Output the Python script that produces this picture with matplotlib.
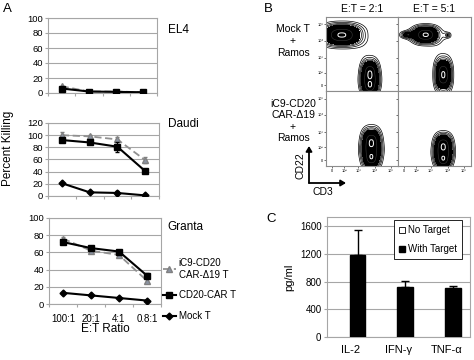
import numpy as np
import matplotlib
matplotlib.use("Agg")
import matplotlib.pyplot as plt
from matplotlib.lines import Line2D
from matplotlib.patches import FancyArrowPatch

plt.rcParams['font.family'] = ['Liberation Sans', 'DejaVu Sans']

W, H = 474, 360

# ---------------- data ----------------
ratios = ["100:1", "20:1", "4:1", "0.8:1"]

el4_ic9 = [9, 2, 2, 1]
el4_car = [6, 2, 1.5, 1]

daudi_ic9 = [100, 98, 93, 59]
daudi_ic9_err = [6, 2, 4, 5]
daudi_car = [92, 88, 81, 41]
daudi_car_err = [4, 3, 8, 2]
daudi_mock = [21, 6, 5, 1]
daudi_mock_err = [1, 1, 3, 1]

granta_ic9 = [76, 62, 57, 27]
granta_ic9_err = [2, 2, 2, 3]
granta_car = [72, 65, 61, 33]
granta_car_err = [2, 2, 2, 3]
granta_mock = [13, 10, 7, 4]
granta_mock_err = [1, 1, 1, 1]

cytokines = ["IL-2", "IFN-γ", "TNF-α"]
no_target = [0, 0, 0]
with_target = [1180, 720, 710]
with_target_err = [360, 90, 20]

# flow populations per panel: (x center, y center, x spread, y spread, weight)
flow_mock_2 = [(0.22, 0.757, 0.12, 0.063, 1.0), (0.61, 0.23, 0.049, 0.08, 1.0),
               (0.61, 0.08, 0.045, 0.06, 0.8)]
flow_mock_5 = [(0.38, 0.76, 0.075, 0.05, 1.0), (0.14, 0.76, 0.06, 0.025, 0.3),
               (0.68, 0.755, 0.04, 0.03, 0.12), (0.62, 0.22, 0.048, 0.093, 1.0)]
flow_car_2 = [(0.63, 0.31, 0.053, 0.08, 1.0), (0.63, 0.12, 0.05, 0.07, 0.8)]
flow_car_5 = [(0.62, 0.26, 0.05, 0.07, 1.0), (0.62, 0.10, 0.047, 0.06, 0.8)]
flow_tick_labels = ["0", "10²", "10³", "10⁴", "10⁵"]


def rect(l, t, r, b):
    return [l / W, 1 - b / H, (r - l) / W, (b - t) / H]


def ftxt(x, y, s, **kw):
    fig.text(x / W, 1 - y / H, s, **kw)


fig = plt.figure(figsize=(W / 100, H / 100), dpi=100)

GRID = '#a6a6a6'
TRI = '#8a93a3'
x = np.arange(len(ratios)) + 0.5


def style_a(ax, ymax, step, xlabels=False):
    ax.set_xlim(0, 4)
    ax.set_ylim(0, ymax)
    ax.set_yticks(np.arange(0, ymax + 1, step))
    ax.yaxis.grid(True, color=GRID, lw=0.8)
    ax.set_axisbelow(True)
    for s in ax.spines.values():
        s.set_color(GRID)
        s.set_linewidth(0.8)
    ax.tick_params(axis='y', labelsize=6.8, length=2, color=GRID, pad=1.5)
    ax.set_xticks([0, 1, 2, 3, 4])
    ax.tick_params(axis='x', length=2, color=GRID, labelbottom=False)
    if xlabels:
        ax.set_xticks(x, minor=True)
        ax.set_xticklabels(ratios, minor=True, fontsize=7)
        ax.tick_params(axis='x', which='minor', length=0, pad=7, labelbottom=True)


def series(ax, vals, err, kind):
    if kind == 'ic9':
        ax.errorbar(x, vals, yerr=err, color='#909090', ls=(0, (4, 2)), lw=1.3,
                    marker='^', ms=4.5, mfc=TRI, mec='#808080', capsize=1.5,
                    elinewidth=0.8, ecolor='#808080', zorder=3)
    elif kind == 'car':
        ax.errorbar(x, vals, yerr=err, color='black', lw=1.5, marker='s', ms=4,
                    capsize=1.5, elinewidth=0.8, zorder=4)
    else:
        ax.errorbar(x, vals, yerr=err, color='black', lw=1.5, marker='D', ms=3.5,
                    capsize=1.5, elinewidth=0.8, zorder=4)


# ---- Panel A ----
ax1 = fig.add_axes(rect(48, 18, 157, 93))
style_a(ax1, 100, 20)
series(ax1, el4_ic9, None, 'ic9')
series(ax1, el4_car, None, 'car')

ax2 = fig.add_axes(rect(48, 123, 159, 196))
style_a(ax2, 120, 20)
series(ax2, daudi_ic9, daudi_ic9_err, 'ic9')
series(ax2, daudi_car, daudi_car_err, 'car')
series(ax2, daudi_mock, daudi_mock_err, 'mock')

ax3 = fig.add_axes(rect(49, 218, 161, 304))
style_a(ax3, 100, 20, xlabels=True)
series(ax3, granta_ic9, granta_ic9_err, 'ic9')
series(ax3, granta_car, granta_car_err, 'car')
series(ax3, granta_mock, granta_mock_err, 'mock')

ftxt(7, 9, "A", fontsize=9.5, ha='center', va='center')
ftxt(168, 30, "EL4", fontsize=8.5, va='center')
ftxt(168, 124, "Daudi", fontsize=8.5, va='center')
ftxt(167, 227, "Granta", fontsize=8.5, va='center')
ftxt(105, 329, "E:T Ratio", fontsize=8.5, ha='center', va='center')
ftxt(8, 148, "Percent Killing", fontsize=8.5, rotation=90, ha='center', va='center')

handles = [
    Line2D([], [], color='#909090', ls=(0, (4, 2)), lw=1.3, marker='^', ms=4.5,
           mfc=TRI, mec='#808080'),
    Line2D([], [], color='black', lw=1.5, marker='s', ms=4),
    Line2D([], [], color='black', lw=1.5, marker='D', ms=3.5),
]
fig.legend(handles, ["iC9-CD20\nCAR-Δ19 T", "CD20-CAR T", "Mock T"],
           loc='upper left', bbox_to_anchor=(163 / W, 1 - 258 / H), frameon=False,
           fontsize=7, handlelength=1.3, handletextpad=0.3, labelspacing=1.1,
           borderaxespad=0, borderpad=0)

# ---- Panel B ----
gx = np.linspace(0, 1, 300)
gy = np.linspace(0, 1, 300)
GX, GY = np.meshgrid(gx, gy)
tick_pos = [0.08, 0.25, 0.45, 0.68, 0.9]
ring_radii = np.array([3.0, 2.7, 2.45, 2.25])
core_radius = 2.05
SHAPE_P = 2.5


def flow(ax, pops, bottom_labels):
    Z = np.zeros_like(GX)
    for (cx, cy, sx, sy, w) in pops:
        rho = (np.abs((GX - cx) / sx) ** SHAPE_P
               + np.abs((GY - cy) / sy) ** SHAPE_P) ** (1 / SHAPE_P)
        Z += w * np.exp(-rho)
    ax.contour(GX, GY, Z, levels=np.sort(np.exp(-ring_radii)),
               colors='black', linewidths=0.5)
    ax.contourf(GX, GY, Z, levels=[np.exp(-core_radius), 10], colors='black')
    ax.contour(GX, GY, Z, levels=[np.exp(-1.2)], colors='#3a3a3a', linewidths=0.4)
    ax.contour(GX, GY, Z, levels=[np.exp(-0.45)], colors='white', linewidths=0.7)
    ax.set_xlim(0, 1)
    ax.set_ylim(0, 1)
    for s in ax.spines.values():
        s.set_color('#8c8c8c')
        s.set_linewidth(0.8)
    ax.set_xticks(tick_pos)
    ax.set_yticks(tick_pos)
    ax.set_yticklabels(flow_tick_labels, fontsize=2.8)
    ax.set_xticklabels(flow_tick_labels, fontsize=2.8)
    ax.tick_params(length=1.2, width=0.4, pad=0.8, labelbottom=bottom_labels)


b1 = fig.add_axes(rect(326, 17, 398, 91))
flow(b1, flow_mock_2, False)
b2 = fig.add_axes(rect(398, 17, 471, 91))
flow(b2, flow_mock_5, False)
b2.tick_params(labelleft=False)
b3 = fig.add_axes(rect(326, 91, 398, 166))
flow(b3, flow_car_2, True)
b4 = fig.add_axes(rect(398, 91, 471, 166))
flow(b4, flow_car_5, True)
b4.tick_params(labelleft=False)

ftxt(268, 9, "B", fontsize=9.5, ha='center', va='center')
ftxt(362, 9, "E:T = 2:1", fontsize=7.5, ha='center', va='center')
ftxt(434, 9, "E:T = 5:1", fontsize=7.5, ha='center', va='center')
ftxt(293, 41, "Mock T\n+\nRamos", fontsize=7.5, ha='center', va='center',
     linespacing=1.25)
ftxt(293, 121, "iC9-CD20\nCAR-Δ19\n+\nRamos", fontsize=7.5, ha='center', va='center',
     linespacing=1.15)

arr_kw = dict(transform=fig.transFigure, arrowstyle='-|>,head_length=3,head_width=1.8',
              color='black', lw=1.3, shrinkA=0, shrinkB=0)
fig.patches.append(FancyArrowPatch((309 / W, 1 - 183 / H), (309 / W, 1 - 146 / H), **arr_kw))
fig.patches.append(FancyArrowPatch((309 / W, 1 - 183 / H), (346 / W, 1 - 183 / H), **arr_kw))
ftxt(301, 166, "CD22", fontsize=7.5, rotation=90, ha='center', va='center')
ftxt(323, 192, "CD3", fontsize=7.5, ha='center', va='center')

# ---- Panel C ----
axc = fig.add_axes(rect(327, 217, 470, 337))
xc = np.arange(len(cytokines))
bw = 0.33
axc.bar(xc - 0.14, no_target, bw, color='white', edgecolor='black', lw=0.6,
        label='No Target', zorder=3)
axc.bar(xc + 0.14, with_target, bw, color='black', edgecolor='black',
        label='With Target', zorder=3)
axc.errorbar(xc + 0.14, with_target, yerr=[np.zeros(3), with_target_err], fmt='none',
             ecolor='black', elinewidth=1, capsize=3, capthick=1, zorder=4)
axc.set_xlim(-0.5, 2.5)
axc.set_ylim(0, 1730)
axc.set_yticks([0, 400, 800, 1200, 1600])
axc.yaxis.grid(True, color=GRID, lw=0.8)
axc.set_axisbelow(True)
for s in axc.spines.values():
    s.set_color(GRID)
    s.set_linewidth(0.8)
axc.set_xticks(xc)
axc.set_xticklabels(cytokines, fontsize=8)
axc.tick_params(axis='x', length=0, pad=6)
axc.tick_params(axis='y', labelsize=7, length=2, color=GRID, pad=2)
axc.set_ylabel("pg/ml", fontsize=8, labelpad=4)
leg = axc.legend(loc='upper right', bbox_to_anchor=(0.944, 0.975), fontsize=7,
                 handlelength=0.6, handleheight=0.6, handletextpad=0.3,
                 fancybox=False, edgecolor='black', framealpha=1, borderpad=0.55,
                 labelspacing=0.9, borderaxespad=0)
leg.get_frame().set_linewidth(0.6)

ftxt(271, 219, "C", fontsize=9.5, ha='center', va='center')

fig.savefig("out.png", dpi=100)
